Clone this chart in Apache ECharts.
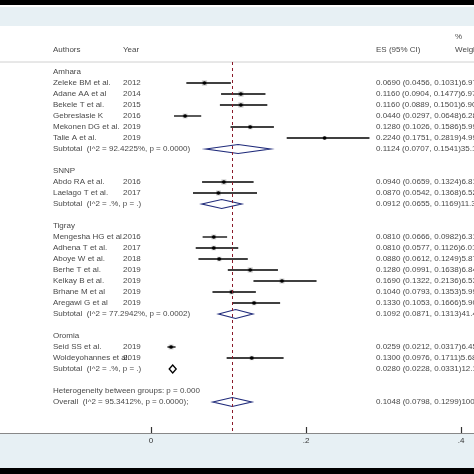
<!DOCTYPE html><html><head><meta charset="utf-8">
<script src="https://cdn.jsdelivr.net/npm/echarts@6/dist/echarts.min.js"></script>
<style>html,body{margin:0;padding:0;background:#fff}#c{width:474px;height:474px}</style></head><body><div id="c"></div>
<script>
const groups=['Amhara','SNNP','Tigray','Oromia'];
const authors=[['Zeleke BM et al.','Adane AA et al','Bekele T et al.','Gebreslasie K','Mekonen DG et al.','Talie A et al.'],['Abdo RA et al.','Laelago T et al.'],['Mengesha HG et al.','Adhena T et al.','Aboye W et al.','Berhe T et al.','Kelkay B et al.','Brhane M et al','Aregawi G et al'],['Seid SS et al.','Woldeyohannes et al.']];
const years=[[2012,2014,2015,2016,2019,2019],[2016,2017],[2016,2017,2018,2019,2019,2019,2019],[2019,2019]];
const es=[[0.0690,0.1160,0.1160,0.0440,0.1280,0.2240],[0.0940,0.0870],[0.0810,0.0810,0.0880,0.1280,0.1690,0.1040,0.1330],[0.0259,0.1300]];
const lo=[[0.0456,0.0904,0.0889,0.0297,0.1026,0.1751],[0.0659,0.0542],[0.0666,0.0577,0.0612,0.0991,0.1322,0.0793,0.1053],[0.0212,0.0976]];
const hi=[[0.1031,0.1477,0.1501,0.0648,0.1586,0.2819],[0.1324,0.1368],[0.0982,0.1126,0.1249,0.1638,0.2136,0.1353,0.1666],[0.0317,0.1711]];
const wt=[['6.97','6.97','6.90','6.28','5.99','4.99'],['6.81','6.52'],['6.31','6.01','5.87','6.84','6.53','5.99','5.90'],['6.45','5.68']];
const subI2=['92.4225%, p = 0.0000','.%, p = .','77.2942%, p = 0.0002','.%, p = .'];
const subES=[0.1124,0.0912,0.1092,0.0280];
const subLo=[0.0707,0.0655,0.0871,0.0228];
const subHi=[0.1541,0.1169,0.1313,0.0331];
const subW=['35.10','11.34','41.44','12.13'];
const overall={es:0.1048,lo:0.0798,hi:0.1299,w:'100.00',i2:'95.3412%, p = 0.0000'};
const xTicks=[0,0.2,0.4];
const xTickLabels=['0','.2','.4'];

const f=v=>v.toFixed(4);
const texts=[],studies=[],diamonds=[];
let r=0;
const X_A=-0.1265,X_Y=-0.0361,X_E=0.2903,X_W=0.3923;
groups.forEach((g,gi)=>{
  texts.push([X_A,r,g]);r++;
  authors[gi].forEach((a,i)=>{
    texts.push([X_A,r,a]);texts.push([X_Y,r,String(years[gi][i])]);
    texts.push([X_E,r,f(es[gi][i])+' ('+f(lo[gi][i])+', '+f(hi[gi][i])+')'+wt[gi][i]]);
    studies.push([es[gi][i],lo[gi][i],hi[gi][i],r,parseFloat(wt[gi][i])]);r++;
  });
  texts.push([X_A,r,'Subtotal  (I^2 = '+subI2[gi]+')']);
  texts.push([X_E,r,f(subES[gi])+' ('+f(subLo[gi])+', '+f(subHi[gi])+')'+subW[gi]]);
  diamonds.push([subES[gi],subLo[gi],subHi[gi],r,gi===3?1:0]);r+=2;
});
texts.push([X_A,r,'Heterogeneity between groups: p = 0.000']);r++;
texts.push([X_A,r,'Overall  (I^2 = '+overall.i2+');']);
texts.push([X_E,r,f(overall.es)+' ('+f(overall.lo)+', '+f(overall.hi)+')'+overall.w]);
diamonds.push([overall.es,overall.lo,overall.hi,r,0]);
const hdr=-2.0;
texts.push([X_A,hdr,'Authors'],[X_Y,hdr,'Year'],[X_E,hdr,'ES (95% CI)'],[X_W,hdr,'Weight'],[X_W,hdr-1.2,'%']);

const chart=echarts.init(document.getElementById('c'));
const PX=775, R0=72, RS=11;
chart.setOption({
  animation:false,
  graphic:[
    {type:'rect',shape:{x:0,y:0,width:474,height:5},style:{fill:'#000'},z:-1},
    {type:'rect',shape:{x:0,y:7,width:474,height:19},style:{fill:'#e7f0f4'},z:-1},
    {type:'rect',shape:{x:0,y:433,width:474,height:35},style:{fill:'#e7f0f4'},z:-1},
    {type:'rect',shape:{x:0,y:468,width:474,height:6},style:{fill:'#000'},z:-1},
    {type:'line',shape:{x1:0,y1:62,x2:474,y2:62},style:{stroke:'#d0d0d0',lineWidth:1}}
  ],
  grid:{left:0,right:0,top:0,bottom:41},
  xAxis:{type:'value',position:'bottom',min:-151/PX,max:323/PX,splitLine:{show:false},
    axisLine:{onZero:false,lineStyle:{color:'#888'}},
    axisTick:{customValues:xTicks,length:6,inside:true,lineStyle:{color:'#333',width:1.2}},
    axisLabel:{customValues:xTicks,formatter:v=>xTickLabels[xTicks.indexOf(+v.toFixed(4))]??'',color:'#333',fontSize:8,fontFamily:'Liberation Sans',margin:4}},
  yAxis:{type:'value',inverse:true,min:-R0/RS,max:(433-R0)/RS,show:false},
  series:[
    {type:'scatter',data:texts,symbolSize:0,silent:true,
     label:{show:true,position:'inside',align:'left',verticalAlign:'middle',formatter:p=>p.data[2],color:'#111',fontSize:8,fontFamily:'Liberation Sans'}},
    {type:'custom',data:studies,renderItem:(p,api)=>{
      const c=api.coord([api.value(0),api.value(3)]),a=api.coord([api.value(1),api.value(3)]),b=api.coord([api.value(2),api.value(3)]);
      const s=api.value(4)*0.75;
      return {type:'group',children:[
        {type:'rect',shape:{x:c[0]-s/2,y:c[1]-s/2,width:s,height:s},style:{fill:'#c8c8c8'}},
        {type:'line',shape:{x1:a[0],y1:a[1],x2:b[0],y2:b[1]},style:{stroke:'#000',lineWidth:1.3}},
        {type:'circle',shape:{cx:c[0],cy:c[1],r:1.8},style:{fill:'#000'}}]};
    }},
    {type:'custom',data:diamonds,renderItem:(p,api)=>{
      const c=api.coord([api.value(0),api.value(3)]),a=api.coord([api.value(1),api.value(3)]),b=api.coord([api.value(2),api.value(3)]);
      const small=api.value(4)===1,h=small?4:4.5;
      let L=a[0],R=b[0];if(small){L=c[0]-3.5;R=c[0]+3.5;}
      return {type:'polygon',shape:{points:[[L,c[1]],[c[0],c[1]-h],[R,c[1]],[c[0],c[1]+h]]},
        style:{fill:'#fff',stroke:small?'#000':'#1f2a7a',lineWidth:small?1.3:1.2}};
    }},
    {type:'line',data:[],markLine:{symbol:'none',silent:true,label:{show:false},
      lineStyle:{color:'#8b1a2a',type:[3,3],width:1},
      data:[[{coord:[overall.es,(62-R0)/RS]},{coord:[overall.es,(433-R0)/RS]}]]}}
  ]
});
</script></body></html>
